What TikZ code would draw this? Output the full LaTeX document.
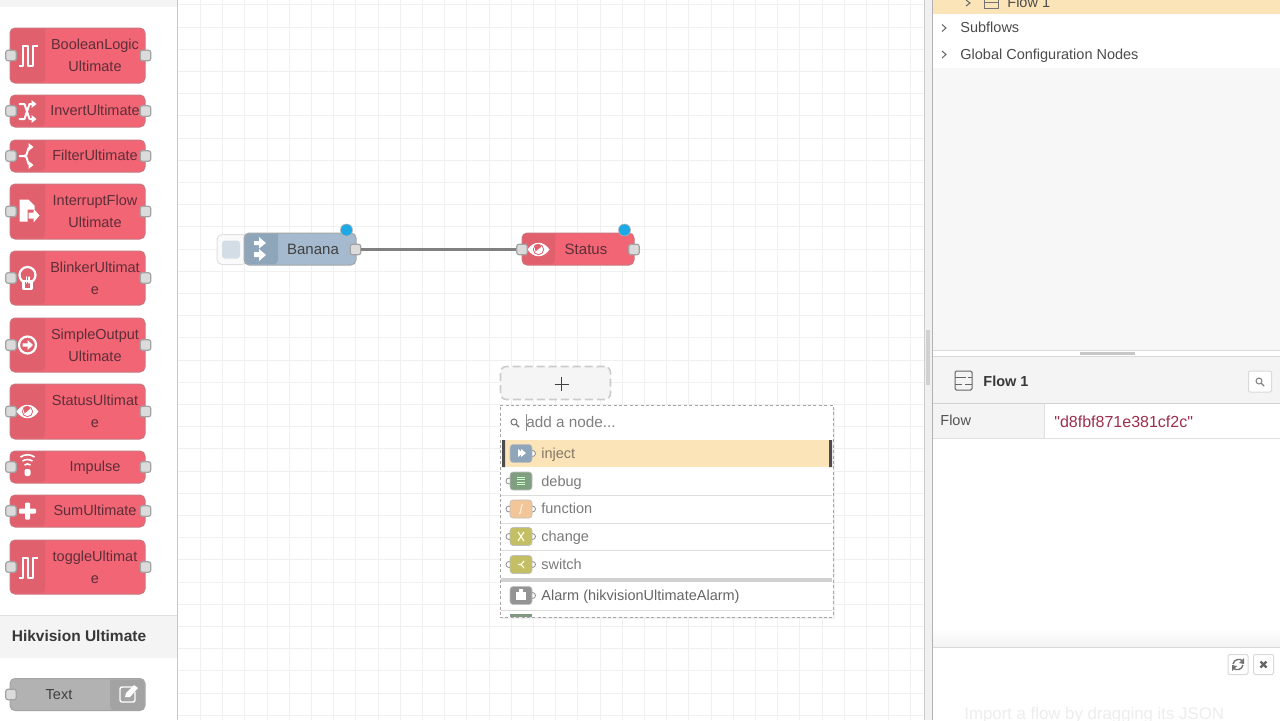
\documentclass[tikz,border=0pt]{standalone}
\usepackage{fontspec}
\setmainfont{Liberation Sans}
\newfontfamily\plainsans{Liberation Sans}
\usetikzlibrary{calc}
\definecolor{redbody}{HTML}{F26575}
\definecolor{redzone}{HTML}{E0606D}
\definecolor{redline}{HTML}{C9767F}
\definecolor{redtext}{HTML}{5E2E37}
\definecolor{bluebody}{HTML}{A5BACE}
\definecolor{bluezone}{HTML}{8FA5B9}
\definecolor{grid}{HTML}{F0F0F0}
\definecolor{panel}{HTML}{F4F4F4}
\definecolor{rowline}{HTML}{DDDDDD}
\definecolor{hilite}{HTML}{FBE4B8}
\definecolor{dotblue}{HTML}{1DA9E6}
\definecolor{valred}{HTML}{9C2F4E}
\definecolor{injtext}{HTML}{84786A}
\tikzset{
  x=0.5pt,y=-0.5pt,
  txt/.style={inner sep=0pt,text height=6.4pt,text depth=1.5pt,font=\fontsize{7.25}{11}\selectfont},
  redbox/.style={draw=redline,fill=redbody,line width=0.5pt,rounded corners=2.5pt,minimum width=67.5pt,inner sep=0pt},
  plabel/.style={inner sep=0pt,align=center,text=redtext,font=\fontsize{7.25}{11}\selectfont},
  portbox/.style={draw=black!36,fill=black!14,line width=0.6pt,rounded corners=1.2pt,minimum size=5.3pt,inner sep=0pt},
  ico/.style={draw=white,line width=1pt,line cap=round,line join=round},
  tinyport/.style={circle,draw=black!45,fill=white,line width=0.4pt,minimum size=3pt,inner sep=0pt},
  rowrule/.style={draw=rowline,line width=0.5pt},
  itemtxt/.style={txt,anchor=west,text=black!52},
  listicon/.style={rounded corners=1.5pt,minimum width=11pt,minimum height=9pt,inner sep=0pt,draw=black!25,line width=0.3pt},
  btn/.style={draw=black!15,fill=white,line width=0.5pt,rounded corners=1pt,inner sep=0pt}
}
\newcommand{\st}{\rule{0pt}{5.8pt}\rule[-1.5pt]{0pt}{1.5pt}}
% name, top, bottom, label, icon
\newcommand{\palnode}[5]{%
  \pgfmathsetmacro{\yc}{(#2+#3)/2}%
  \pgfmathsetmacro{\hh}{(#3-#2)/2}%
  \node[redbox,minimum height=\hh pt] (#1) at (77.5,\yc) {};
  \fill[redzone,rounded corners=2.2pt] (45,#2+0.6) -- (10.6,#2+0.6) -- (10.6,#3-0.6) -- (45,#3-0.6) [sharp corners] -- cycle;
  \node[plabel] (#1-label) at (95,\yc) {#4};
  \node[portbox] (#1-in) at (11,\yc) {};
  \node[portbox] (#1-out) at (145.5,\yc) {};
  \begin{scope}[shift={(27.5,\yc)}]#5\end{scope}
}
\newcommand{\icowave}{\draw[ico,line cap=butt] (-9,10.5) -- (-5,10.5) -- (-5,-9.5) -- (0,-9.5) -- (0,10.5) -- (5,10.5) -- (5,-9.5) -- (10,-9.5);}
\newcommand{\icoshuffle}{\draw[ico] (-8,-7) -- (-3,-7) -- (2,8) -- (5,8);\draw[ico] (-8,8) -- (-3,8) -- (2,-7) -- (5,-7);
  \fill[white] (4,4) -- (9,8) -- (4,12) -- cycle (4,-11) -- (9,-7) -- (4,-3) -- cycle;}
\newcommand{\icofilter}{\draw[ico] (-8,0) -- (-3,0) .. controls (1,0) and (-1,-9) .. (3,-9);\draw[ico] (-3,0) .. controls (1,0) and (-1,9) .. (3,9);
  \fill[white] (1,-13) -- (6,-9) -- (1,-5) -- cycle (1,5) -- (6,9) -- (1,13) -- cycle;}
\newcommand{\icodoc}{\fill[white] (-8,-12) -- (1,-12) -- (7,-6) -- (7,-2) -- (0,-2) -- (0,10) -- (-8,10) -- cycle;
  \fill[white] (1,1) -- (6,1) -- (6,-3) -- (12,4) -- (6,11) -- (6,7) -- (1,7) -- cycle;}
\newcommand{\icobulb}{\draw[ico,line width=1.1pt] (0,-3) circle (8);\draw[ico,line width=1.1pt,fill=redzone] (-4,3) rectangle (4,11);\draw[ico,line width=.6pt] (-1,-1) -- (-1,5) (1.5,-1) -- (1.5,5);}
\newcommand{\icocircarrow}{\draw[ico,line width=1.1pt] (0,0) circle (8.5);\fill[white] (-5,-1.6) -- (0,-1.6) -- (0,-5) -- (5.5,0) -- (0,5) -- (0,1.6) -- (-5,1.6) -- cycle;}
\newcommand{\icoeye}{\fill[white] (-11,0) .. controls (-5,-9) and (5,-9) .. (11,0) .. controls (5,9) and (-5,9) .. (-11,0) -- cycle;\fill[redzone] (0,0) circle (5.6);\fill[white] (0,0) circle (4.6);\fill[redzone] (-4,-4.5) .. controls (-1,-6) and (2,-5) .. (3,-3) -- (-3,2) -- cycle;}
\newcommand{\icowifi}{\draw[ico,line width=.8pt,line cap=butt] (-7,-10) .. controls (-3,-13) and (3,-13) .. (7,-10);\draw[ico,line width=.8pt,line cap=butt] (-5,-6) .. controls (-2,-8) and (2,-8) .. (5,-6);\draw[ico,line width=.8pt,line cap=butt] (-3,-2) .. controls (-1,-3.5) and (1,-3.5) .. (3,-2);\fill[white,rounded corners=1pt] (-3,2) rectangle (3,9);}
\newcommand{\icoplus}{\fill[white,rounded corners=.5pt] (-2.5,-8.5) rectangle (2.5,8.5);\fill[white,rounded corners=.5pt] (-8.5,-2.5) rectangle (8.5,2.5);}
\begin{document}
\begin{tikzpicture}
\useasboundingbox (0,0) rectangle (1280,720);
\begin{scope}
\clip (0,0) rectangle (1280,720);
\fill[white] (0,0) rectangle (1280,720);
% canvas grid
\foreach \i in {9,...,41} \draw[grid,line width=0.5pt] ({0.7+22.2*\i},0) -- ({0.7+22.2*\i},720);
\foreach \j in {0,...,32} \draw[grid,line width=0.5pt] (178,{4.8+22.2*\j}) -- (924,{4.8+22.2*\j});
% sidebar
\fill[white] (0,0) rectangle (177,720);
\fill[panel] (0,0) rectangle (177,7);
\draw[black!22,line width=0.6pt] (177.5,0) -- (177.5,720);
\palnode{boolean}{28}{83}{BooleanLogic\\Ultimate}{\icowave}
\palnode{invert}{95}{127}{\st InvertUltimate}{\icoshuffle}
\palnode{filter}{140}{172}{\st FilterUltimate}{\icofilter}
\palnode{interrupt}{184}{239}{InterruptFlow\\Ultimate}{\icodoc}
\palnode{blinker}{251}{305}{BlinkerUltimat\\e}{\icobulb}
\palnode{simple}{318}{372}{SimpleOutput\\Ultimate}{\icocircarrow}
\palnode{statusu}{384}{439}{StatusUltimat\\e}{\icoeye}
\palnode{impulse}{451}{483}{\st Impulse}{\icowifi}
\palnode{sum}{495}{527}{\st SumUltimate}{\icoplus}
\palnode{toggle}{540}{594}{toggleUltimat\\e}{\icowave}
% category
\fill[panel] (0,615) rectangle (177,658);
\draw[black!12,line width=0.5pt] (0,615) -- (177,615);
\node[txt,font=\bfseries\fontsize{7.75}{11}\selectfont,text=black!78] (hik) at (79,637) {Hikvision Ultimate};
% Text node
\node[draw=black!36,fill=black!30,line width=0.5pt,rounded corners=2.5pt,minimum width=67.5pt,minimum height=16pt,inner sep=0pt] (textn) at (77.5,694.5) {};
\fill[black!36,rounded corners=2.2pt] (110,679.6) -- (144.4,679.6) -- (144.4,710.4) -- (110,710.4) [sharp corners] -- cycle;
\node[txt,text=black!75] (textl) at (59,694.5) {Text};
\node[portbox] (text-in) at (11,694.5) {};
\draw[white,line width=.7pt,rounded corners=1pt] (134,687) -- (120,687) -- (120,702) -- (135,702) -- (135,692);
\fill[white] (125,697) -- (126,693) -- (134,685) -- (138,688) -- (130,697) -- cycle;
% separator
\fill[black!6] (924,0) rectangle (933,720);
\draw[black!20,line width=0.5pt] (924,0) -- (924,720);
\draw[black!30,line width=0.6pt] (932.5,0) -- (932.5,720);
\fill[black!18] (926,330) rectangle (930,385);
% flow nodes
\node[draw=black!12,fill=black!2,line width=0.5pt,rounded corners=2.5pt,minimum width=15pt,minimum height=15pt,inner sep=0pt] (bananabtn) at (232,249.5) {};
\node[fill=bluebody!50,rounded corners=1.5pt,minimum size=9pt,inner sep=0pt] (bananabtni) at (231,249.5) {};
\node[draw=black!35,fill=bluebody,line width=0.5pt,rounded corners=2.5pt,minimum width=56pt,minimum height=16pt,inner sep=0pt] (banana) at (300,249) {};
\fill[bluezone,rounded corners=2.2pt] (278,233.6) -- (244.6,233.6) -- (244.6,264.4) -- (278,264.4) [sharp corners] -- cycle;
\node[txt,text=black!75,font=\fontsize{7.5}{11}\selectfont] (bananal) at (313,249.5) {Banana};
\fill[white] (254,241) -- (259,241) -- (259,237) -- (266,243) -- (259,248.5) -- (259,245) -- (254,245) -- cycle;
\fill[white] (254,252) -- (259,252) -- (259,249) -- (266,255) -- (259,261) -- (259,257) -- (254,257) -- cycle;
\node[draw=redline,fill=redbody,line width=0.5pt,rounded corners=2.5pt,minimum width=56pt,minimum height=16pt,inner sep=0pt] (status) at (578,249) {};
\fill[redzone,rounded corners=2.2pt] (555,233.6) -- (522.6,233.6) -- (522.6,264.4) -- (555,264.4) [sharp corners] -- cycle;
\node[txt,text=redtext,font=\fontsize{7.5}{11}\selectfont] (statusl) at (586,249.5) {Status};
\begin{scope}[shift={(538.5,249.5)}]\icoeye\end{scope}
\node[portbox] (banana-out) at (355.5,249.5) {};
\node[portbox] (status-in) at (522,249.5) {};
\node[portbox] (status-out) at (634,249.5) {};
\draw[black!50,line width=1.5pt] (banana-out) -- (status-in);
\node[circle,fill=dotblue,draw=black!30,line width=0.3pt,minimum size=6pt,inner sep=0pt] (dot1) at (346.5,230) {};
\node[circle,fill=dotblue,draw=black!30,line width=0.3pt,minimum size=6pt,inner sep=0pt] (dot2) at (624.5,230) {};
% ghost
\node[draw=black!20,fill=black!4,dash pattern=on 4pt off 2pt,line width=0.8pt,rounded corners=3pt,minimum width=55pt,minimum height=16.5pt,inner sep=0pt] (ghost) at (555.5,383) {};
\draw[black!75,line width=0.4pt] (561.5,377) -- (561.5,391) (554.5,384) -- (568.5,384);
% popup
\fill[black!6] (501,408) rectangle (835,619);
\node[draw=black!35,fill=white,dash pattern=on 1.5pt off 1.2pt,line width=0.5pt,minimum width=166.5pt,minimum height=106pt,inner sep=0pt] (popup) at (666.5,511) {};
\fill[hilite] (502,440) rectangle (832,467);
\fill[black!70] (502,440) rectangle (505,467) (829,440) rectangle (832,467);
\draw[black!55,line width=0.5pt] (514,422) circle (3);
\draw[black!55,line width=0.7pt] (516,424) -- (519,427);
\draw[black!45,line width=0.4pt] (526,414) -- (526,431);
\node[txt,anchor=west,text=black!50,font=\fontsize{7.65}{11}\selectfont] (search) at (526,423) {add a node...};
\foreach \yy in {495,523,550.5,610} \draw[rowrule] (501,\yy) -- (832,\yy);
\fill[black!18] (501,578) rectangle (832,581.5);
\node[tinyport] (injp) at (532.5,453.5) {};
\node[listicon,fill=bluezone] (inji) at (521,453.5) {};
\node[tinyport] (debp) at (509,481) {};
\node[listicon,fill=green!25!black!50] (debi) at (521,481) {};
\node[tinyport] (funp1) at (509,509) {};
\node[tinyport] (funp2) at (532.5,509) {};
\node[listicon,fill=orange!55!brown!45!white] (funi) at (521,509) {};
\node[tinyport] (chap1) at (509,536.5) {};
\node[tinyport] (chap2) at (532.5,536.5) {};
\node[listicon,fill=yellow!65!black!75] (chai) at (521,536.5) {};
\node[tinyport] (swip1) at (509,564.5) {};
\node[tinyport] (swip2) at (532.5,564.5) {};
\node[listicon,fill=yellow!65!black!75] (swii) at (521,564.5) {};
\node[tinyport] (alap) at (532.5,595.5) {};
\node[listicon,fill=black!42] (alai) at (521,595.5) {};
\fill[green!20!black!50] (510,614) rectangle (532,617);
\fill[white] (518,449) -- (523,453) -- (518,457) -- cycle (521,449) -- (526,453) -- (521,457) -- cycle;
\foreach \yy in {477,479.5,482,484.5} \draw[white!80!green,line width=.5pt] (517,\yy) -- (525,\yy);
\draw[white!85!orange,line width=.6pt] (519.5,514) .. controls (521,512) and (521,506) .. (522.5,504);
\draw[white!90!yellow,line width=.6pt] (518,532) -- (524,541) (524,532) -- (518,541);
\draw[white!90!yellow,line width=.6pt] (518,564.5) -- (521,564.5) (524,561) -- (521,564.5) -- (524,568);
\fill[white] (516,592) rectangle (526,600);\fill[white] (519,589) rectangle (523,592);
\node[itemtxt,text=injtext] (t1) at (541,453.5) {inject};
\node[itemtxt] (t2) at (541,481.5) {debug};
\node[itemtxt] (t3) at (541,509) {function};
\node[itemtxt] (t4) at (541,537) {change};
\node[itemtxt] (t5) at (541,564.5) {switch};
\node[itemtxt,text=black!60] (t6) at (541,595.5) {Alarm (hikvisionUltimateAlarm)};
% right panel
\fill[panel!70!white] (933,68) rectangle (1280,350);
\fill[hilite] (933,0) rectangle (1280,14);
\draw[black!60,line width=0.5pt] (966,0) -- (970,3) -- (966,6);
\draw[black!55,line width=0.5pt] (984,-2) rectangle (998,8) (984,2) -- (998,2);
\node[txt,anchor=west,text=black!70] (flowtop) at (1007,3) {Flow 1};
\draw[black!60,line width=0.5pt] (942,24.5) -- (946,28) -- (942,31.5);
\draw[black!60,line width=0.5pt] (942,51) -- (946,54.5) -- (942,58);
\node[txt,anchor=west,text=black!70] (subflows) at (960,28) {Subflows};
\node[txt,anchor=west,text=black!70] (globalc) at (960,54.5) {Global Configuration Nodes};
\draw[black!15,line width=0.5pt] (933,350) -- (1280,350);
\fill[black!22] (1080,352) rectangle (1135,355);
\fill[panel] (933,357) rectangle (1280,403);
\draw[black!15,line width=0.5pt] (933,356.5) -- (1280,356.5);
\draw[black!18,line width=0.5pt] (933,403.5) -- (1280,403.5);
\draw[black!60,line width=0.5pt,rounded corners=.7pt] (955,371) rectangle (972,390);
\draw[black!60,line width=0.5pt] (955,377) -- (966,377) (972,377) -- (968,377) (955,384) -- (962,384) (972,384) -- (965,384);
\node[txt,anchor=west,font=\bfseries\fontsize{7.25}{11}\selectfont,text=black!78] (flowhead) at (983,381.5) {Flow 1};
\node[btn,minimum width=11.5pt,minimum height=10.5pt] (searchbtn) at (1260,381.5) {};
\draw[black!50,line width=0.5pt] (1259,381) circle (3);
\draw[black!50,line width=0.7pt] (1261,383) -- (1264,386);
\fill[panel] (933,404) rectangle (1044,438);
\draw[black!12,line width=0.5pt] (1044,404) -- (1044,438) (933,438.5) -- (1280,438.5);
\node[txt,anchor=west,text=black!68] (flowkey) at (940,420.5) {Flow};
\node[txt,anchor=west,text=valred,font=\plainsans\fontsize{8}{11}\selectfont] (flowval) at (1054,423) {"d8fbf871e381cf2c"};
% footer
\shade[top color=white,bottom color=black!5] (933,628) rectangle (1280,647);
\draw[black!15,line width=0.5pt] (933,647.5) -- (1280,647.5);
\node[btn,minimum width=10pt,minimum height=10pt] (refresh) at (1238,664.5) {};
\node[btn,minimum width=10pt,minimum height=10pt] (closeb) at (1263.5,664.5) {};
\draw[black!55,line width=0.7pt] (1233,664) .. controls (1234,659) and (1240,658) .. (1243,661);
\draw[black!55,line width=0.7pt] (1243,665) .. controls (1242,670) and (1236,671) .. (1233,668);
\fill[black!55] (1244,658) -- (1244,664) -- (1239,663) -- cycle (1232,671) -- (1232,665) -- (1237,666) -- cycle;
\draw[black!60,line width=1.1pt] (1260.5,661.5) -- (1266.5,667.5) (1266.5,661.5) -- (1260.5,667.5);
\node[txt,anchor=west,text=black!7,font=\fontsize{8.4}{11}\selectfont] (tip) at (964,714.5) {Import a flow by dragging its JSON};
\end{scope}
\end{tikzpicture}
\end{document}
